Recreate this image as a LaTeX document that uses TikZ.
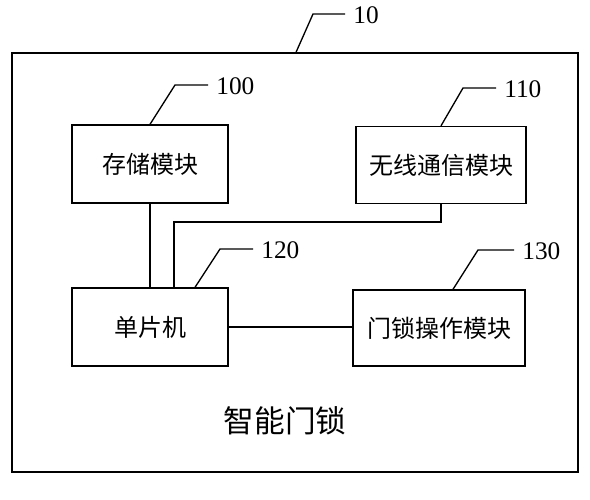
\documentclass[tikz,border=0pt]{standalone}
\usepackage{fontspec}
\setmainfont{Liberation Serif}
\newfontfamily\cjk{Noto Sans CJK SC}
\usetikzlibrary{calc}
\tikzset{every picture/.style={line width=1pt}}
\tikzset{
  modbox/.style={draw, inner sep=0pt, font=\cjk\fontsize{18}{20}\selectfont},
  reflabel/.style={anchor=west, inner sep=0.75pt, xshift=5pt, yshift=-1pt, font=\fontsize{19}{21}\selectfont}
}

\begin{document}
\begin{tikzpicture}[x=0.75pt,y=0.75pt,yscale=-1,xscale=1]
\useasboundingbox (0,0) rectangle (590,500);

%Shape: Rectangle [id:smartlock]
\node [draw, minimum width=566*0.75pt, minimum height=419*0.75pt] (smartlock) at (295,262.5) {};
% Text Node
\node [inner sep=0.75pt, font=\cjk\fontsize{23}{26}\selectfont] (title) at (285,421) {智能门锁};

%Shape: Rectangle [id:store]
\node [modbox, minimum width=156*0.75pt, minimum height=78*0.75pt] (store) at (150,164) {存储模块};
%Shape: Rectangle [id:wireless]
\node [modbox, minimum width=170*0.75pt, minimum height=77*0.75pt] (wireless) at (441,165) {无线通信模块};
%Shape: Rectangle [id:mcu]
\node [modbox, minimum width=156*0.75pt, minimum height=78*0.75pt] (mcu) at (150,327) {单片机};
%Shape: Rectangle [id:lockop]
\node [modbox, minimum width=172*0.75pt, minimum height=76*0.75pt] (lockop) at (439,328) {门锁操作模块};

%Straight Lines
\draw (store.south) -- (mcu.north);
\coordinate (wbend) at (174,222);
\draw (wireless.south) |- (wbend) -- (wbend |- mcu.north);
\draw (mcu.east) -- (lockop.west |- mcu.east);

%Leader Lines
\draw ($(smartlock.north)+(1,0)$) -- (313,14) -- (345,14) node [reflabel] (l10) {10};
\draw (store.north) -- (175,85) -- (208,85) node [reflabel] (l100) {100};
\draw (wireless.north) -- (463,88) -- (496,88) node [reflabel] (l110) {110};
\draw ($(mcu.north)+(45,0)$) -- (220,249) -- (253,249) node [reflabel] (l120) {120};
\draw ($(lockop.north)+(14,0)$) -- (478,250) -- (514,250) node [reflabel] (l130) {130};
\end{tikzpicture}
\end{document}
